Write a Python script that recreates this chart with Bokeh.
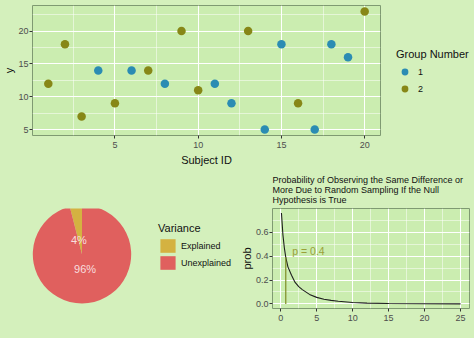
import math
from bokeh.plotting import figure
from bokeh.models import (ColumnDataSource, Range1d, FixedTicker, Legend, LegendItem,
                          Label, Title, NumeralTickFormatter)
from bokeh.layouts import column, row
from bokeh.embed import file_html
from bokeh.resources import INLINE
from bokeh.core.properties import value

# ---------------- data ----------------
subject_id = [1, 2, 3, 4, 5, 6, 7, 8, 9, 10, 11, 12, 13, 14, 15, 16, 17, 18, 19, 20]
y_vals = [12, 18, 7, 14, 9, 14, 14, 12, 20, 11, 12, 9, 20, 5, 18, 9, 5, 18, 16, 23]
group = ["2", "2", "2", "1", "2", "1", "2", "1", "2", "2",
         "1", "1", "2", "1", "1", "2", "1", "1", "1", "2"]
group_colors = {"1": "#2b8cb3", "2": "#878717"}

variance_labels = ["Explained", "Unexplained"]
variance_share = [4, 96]
variance_colors = ["#d4b241", "#e0605e"]

prob_x = [0.1, 0.3, 0.5, 0.7, 1.0, 1.5, 2.0, 2.5, 3.0, 4.0, 5.0, 6.0, 7.0, 8.0,
          10.0, 12.0, 15.0, 20.0, 25.0]
prob_y = [0.76, 0.58, 0.47, 0.39, 0.31, 0.24, 0.18, 0.145, 0.12, 0.08, 0.055, 0.04,
          0.03, 0.022, 0.012, 0.007, 0.004, 0.002, 0.001]
p_value_x = [0.7]
p_value_y = [0.39]
p_label = "p = 0.4"

x_ticks = [5, 10, 15, 20]
y_ticks = [5, 10, 15, 20]
prob_x_ticks = [0, 5, 10, 15, 20, 25]
prob_y_ticks = [0.0, 0.2, 0.4, 0.6]

# ---------------- style ----------------
PAGE_BG = "#d4f0bc"
PANEL_BG = "#cbedb0"
BORDER = "#7f9a72"
FONT = "Liberation Sans"


def style_axes(p):
    for ax in p.xaxis + p.yaxis:
        ax.axis_line_color = None
        ax.major_tick_line_color = "#333333"
        ax.major_tick_in = 0
        ax.major_tick_out = 3
        ax.minor_tick_line_color = None
        ax.major_label_text_font = FONT
        ax.major_label_text_font_size = "9px"
        ax.major_label_text_color = "#4d4d4d"
        ax.major_label_standoff = 2
        ax.axis_label_text_font = FONT
        ax.axis_label_text_font_size = "11px"
        ax.axis_label_text_font_style = "normal"
        ax.axis_label_text_color = "#111111"
        ax.axis_label_standoff = 3
    for ax in p.yaxis:
        ax.axis_label_standoff = 0
        ax.major_label_standoff = 0
    for g in p.xgrid + p.ygrid:
        g.grid_line_color = "white"
        g.grid_line_width = 1
        g.minor_grid_line_color = "white"
        g.minor_grid_line_width = 0.5
    p.background_fill_color = PANEL_BG
    p.border_fill_color = PAGE_BG
    p.outline_line_color = BORDER
    p.outline_line_width = 1


def style_legend(lg, title):
    lg.title = title
    lg.title_text_font = FONT
    lg.title_text_font_size = "11px"
    lg.title_text_font_style = "normal"
    lg.title_text_color = "#111111"
    lg.title_standoff = 3
    lg.label_text_font = FONT
    lg.label_text_font_size = "9px"
    lg.label_text_color = "#111111"
    lg.glyph_width = 17
    lg.glyph_height = 17
    lg.label_height = 17
    lg.label_standoff = 5
    lg.spacing = 0
    lg.padding = 0
    lg.margin = 0
    lg.background_fill_alpha = 0
    lg.border_line_color = None


def legend_canvas(w, h):
    f = figure(width=w, height=h, output_backend="svg", toolbar_location=None,
               x_range=Range1d(1000, 1001), y_range=Range1d(1000, 1001),
               min_border=0)
    f.axis.visible = False
    f.grid.visible = False
    f.outline_line_color = None
    f.background_fill_color = PAGE_BG
    f.border_fill_color = PAGE_BG
    return f


def expand(lo, hi, f=0.05):
    d = (hi - lo) * f
    return lo - d, hi + d


# ---------------- scatter ----------------
xr = expand(min(subject_id), max(subject_id))
yr = expand(min(y_vals), max(y_vals))
p1 = figure(width=381, height=168, output_backend="svg", toolbar_location=None,
            x_range=Range1d(*xr), y_range=Range1d(*yr),
            min_border_left=31, min_border_right=1, min_border_top=5,
            min_border_bottom=30)
src1 = ColumnDataSource(dict(x=subject_id, y=y_vals, g=group,
                             c=[group_colors[k] for k in group]))
p1.scatter("x", "y", source=src1, size=8.5, fill_color="c", line_color=None)
p1.xaxis.ticker = FixedTicker(ticks=x_ticks, minor_ticks=[2.5, 7.5, 12.5, 17.5])
p1.yaxis.ticker = FixedTicker(ticks=y_ticks, minor_ticks=[7.5, 12.5, 17.5, 22.5])
p1.xaxis.axis_label = "Subject ID"
p1.yaxis.axis_label = "y"
style_axes(p1)

lf1 = legend_canvas(93, 168)
sr_leg = lf1.scatter("x", "y", source=src1, size=8.5, fill_color="c", line_color=None)
groups = sorted(set(group))
first_index = [group.index(k) for k in groups]
lg1 = Legend(items=[LegendItem(label=k, renderers=[sr_leg], index=i)
                    for k, i in zip(groups, first_index)])
style_legend(lg1, "Group Number")
lg1.location = (15, 38)
lf1.add_layout(lg1)

# ---------------- pie ----------------
R = 49.2
pie_w, pie_h = 150, 170
cx, cy_top = 81.5, 77.8
p2 = figure(width=pie_w, height=pie_h, output_backend="svg", toolbar_location=None,
            x_range=Range1d(-cx / R, (pie_w - cx) / R),
            y_range=Range1d(-(pie_h - cy_top) / R, cy_top / R),
            min_border=0)
total = sum(variance_share)
starts, ends, mids = [], [], []
acc = 0.0
for s in variance_share:
    a0 = math.pi / 2 + 2 * math.pi * acc / total
    acc += s
    a1 = math.pi / 2 + 2 * math.pi * acc / total
    starts.append(a0)
    ends.append(a1)
    mids.append((a0 + a1) / 2)
src2 = ColumnDataSource(dict(label=variance_labels, start=starts, end=ends,
                             color=variance_colors,
                             tx=[0.5 * math.cos(m) for m in mids],
                             ty=[0.5 * math.sin(m) for m in mids],
                             txt=[f"{s}%" for s in variance_share]))
p2.wedge(x=0, y=0, radius=1, start_angle="start", end_angle="end",
         fill_color="color", line_color=None, source=src2)
p2.text(x="tx", y="ty", text="txt", source=src2, text_align="center",
        text_baseline="middle", text_color="#f8dede", text_font=value(FONT),
        text_font_size="11px")
p2.axis.visible = False
p2.grid.visible = False
p2.background_fill_color = PAGE_BG
p2.border_fill_color = PAGE_BG
p2.outline_line_color = None

lf2 = legend_canvas(87, 170)
wr_leg = lf2.wedge(x=0, y=0, radius=1, start_angle="start", end_angle="end",
                   fill_color="color", line_color=None, source=src2)
leg2 = Legend(items=[LegendItem(label=variance_labels[i], renderers=[wr_leg], index=i)
                     for i in range(len(variance_labels))])
style_legend(leg2, "Variance")
leg2.glyph_width = 19
leg2.label_standoff = 4
leg2.location = (8, 37)
lf2.add_layout(leg2)

# ---------------- probability curve ----------------
pxr = expand(min(prob_x), max(prob_x))
pyr = expand(0, max(prob_y))
p3 = figure(width=237, height=170, output_backend="svg", toolbar_location=None,
            x_range=Range1d(*pxr), y_range=Range1d(*pyr),
            min_border_left=34, min_border_right=5, min_border_top=40,
            min_border_bottom=30)
p3.title = Title(text="Probability of Observing the Same Difference or\n"
                      "More Due to Random Sampling If the Null\n"
                      "Hypothesis is True")
p3.title.text_font = FONT
p3.title.text_font_size = "9px"
p3.title.text_font_style = "normal"
p3.title.text_color = "#111111"
p3.title.align = "left"
p3.title.standoff = 7
p3.line(prob_x, prob_y, line_color="#1f1f1f", line_width=1.1)
p3.segment(x0=p_value_x, y0=[0] * len(p_value_x), x1=p_value_x, y1=p_value_y,
           line_color="#7f8c25", line_width=1.2)
p3.add_layout(Label(x=1.6, y=0.44, text=p_label, text_font=FONT,
                    text_font_size="10.5px", text_color="#9aa03a",
                    text_baseline="middle"))
p3.xaxis.ticker = FixedTicker(ticks=prob_x_ticks, minor_ticks=[2.5, 7.5, 12.5, 17.5, 22.5])
p3.yaxis.ticker = FixedTicker(ticks=prob_y_ticks, minor_ticks=[0.1, 0.3, 0.5, 0.7])
p3.yaxis.formatter = NumeralTickFormatter(format="0.0")
p3.yaxis.axis_label = "prob"
style_axes(p3)

layout = column(row(p1, lf1, spacing=0), row(p2, lf2, p3, spacing=0), spacing=0)
html = file_html(layout, INLINE)
html = html.replace("<head>", "<head><style>html,body{margin:0;padding:0;background:%s;}</style>" % PAGE_BG, 1)
open("out.html", "w").write(html)
